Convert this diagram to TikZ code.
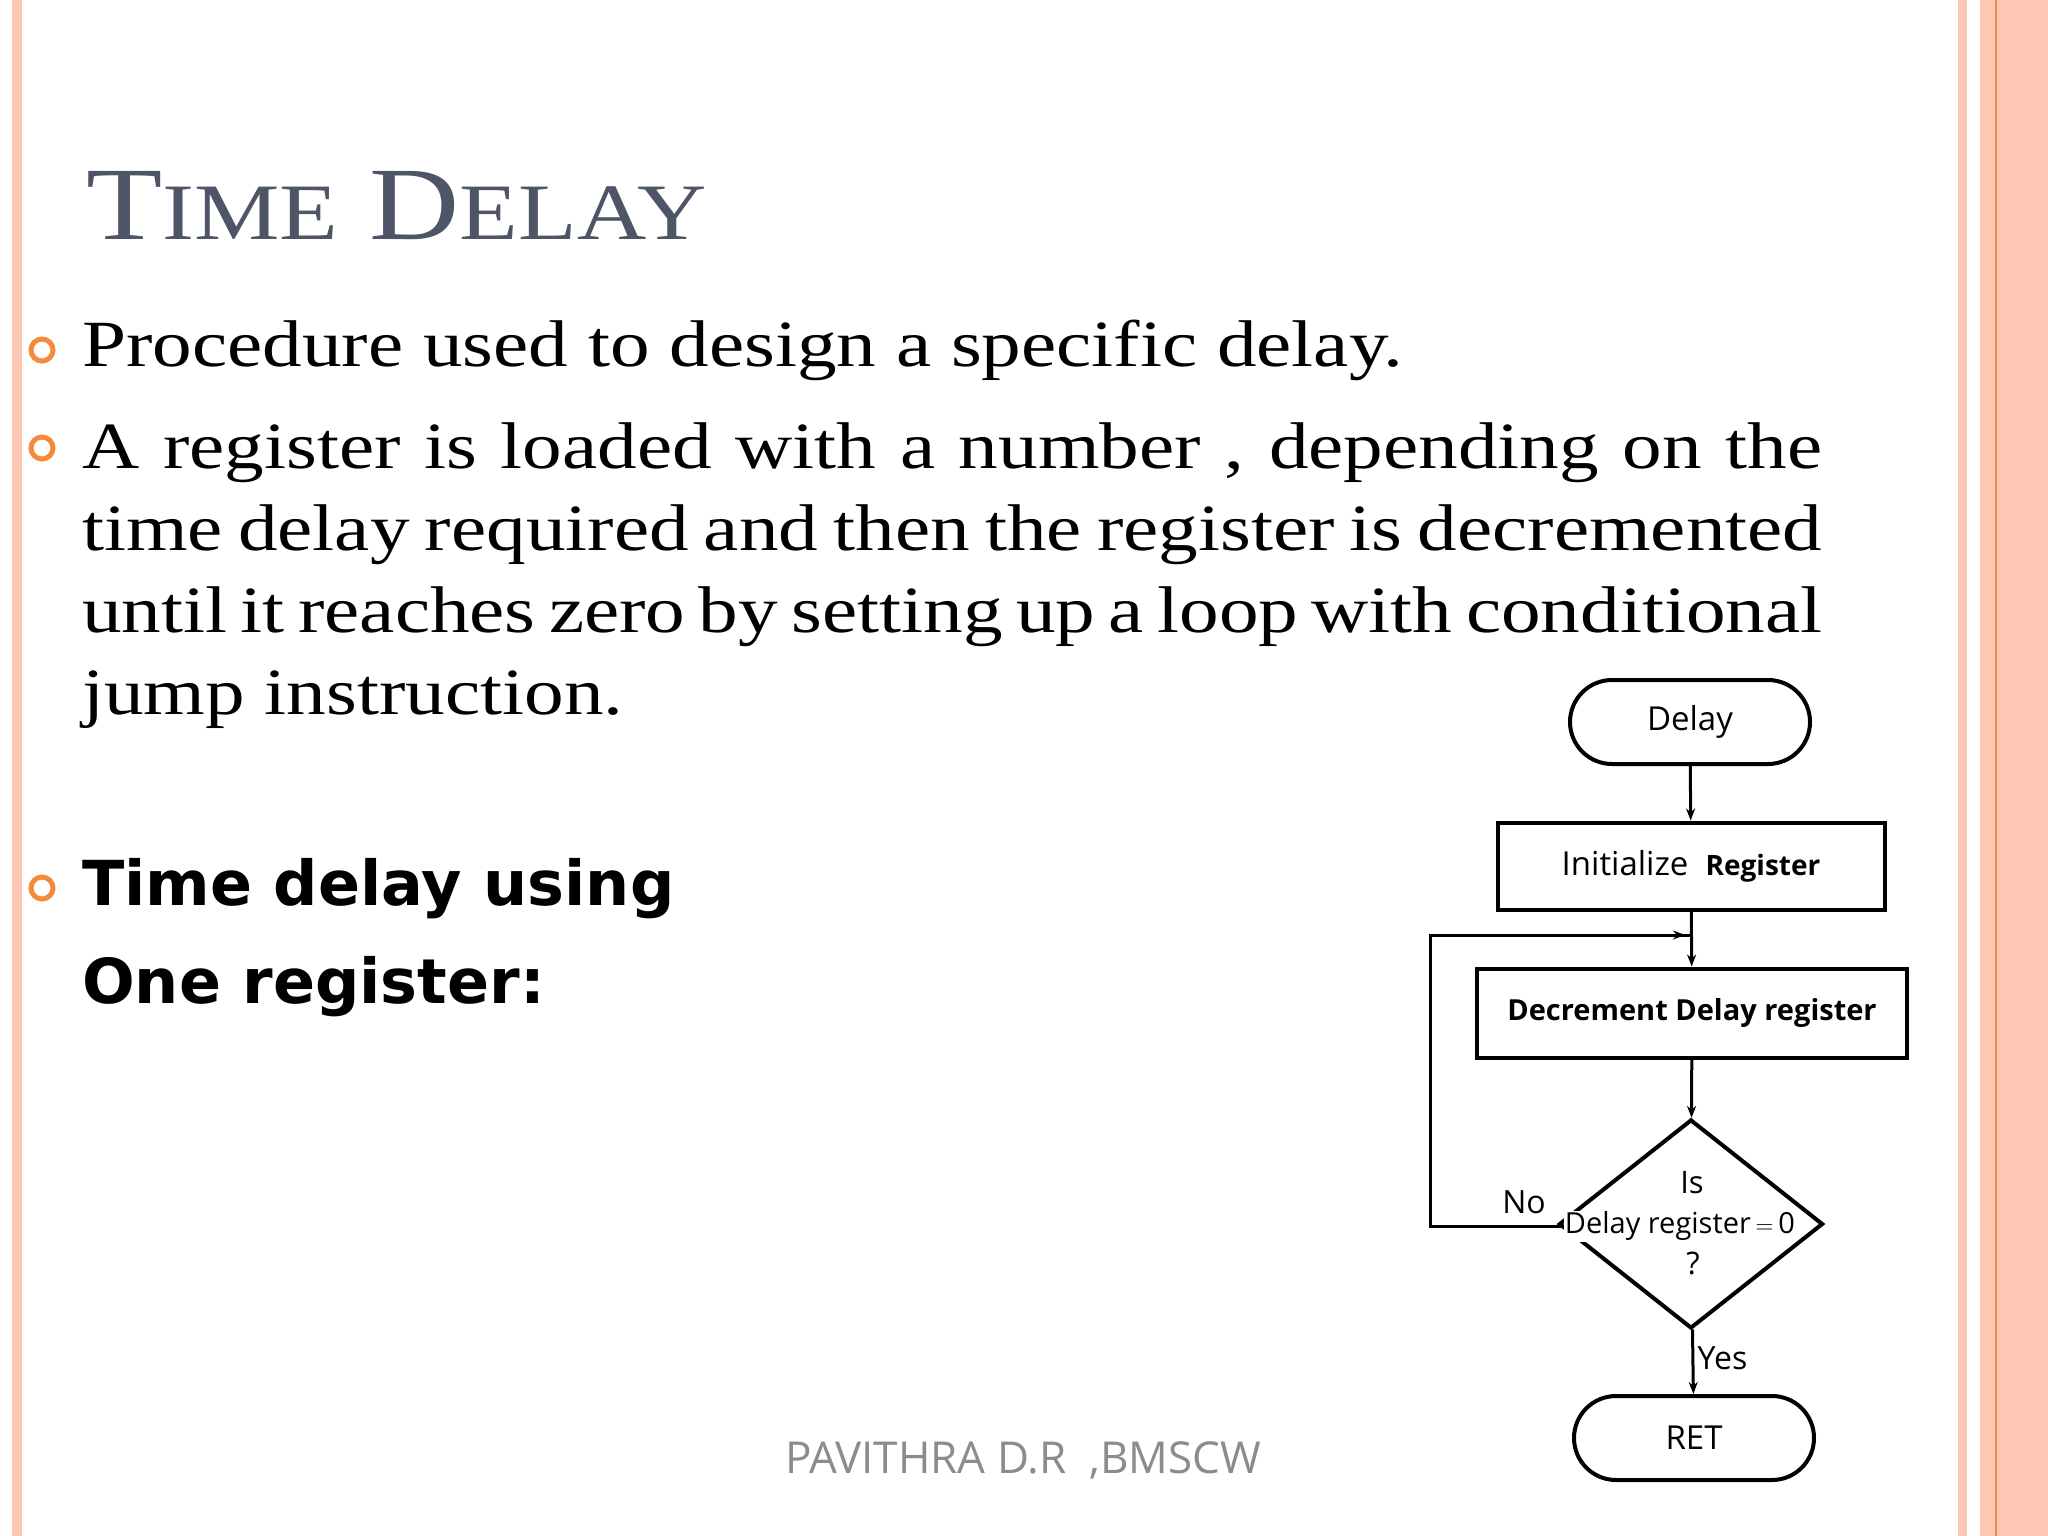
\documentclass[tikz,border=0pt]{standalone}
\usepackage{fontspec}
\setmainfont{Liberation Serif}
\newfontfamily\bodyserif[FakeStretch=1.2]{Liberation Serif}
\newfontfamily\bodysans{DejaVu Sans}
\newfontfamily\fcfont{Open Sans}
\usetikzlibrary{shapes.geometric,shapes.misc,arrows.meta}
\definecolor{salmon}{HTML}{FCC8B4}
\definecolor{dorange}{HTML}{F08A50}
\definecolor{bullet}{HTML}{F58A3C}
\definecolor{titlec}{HTML}{4D5566}
\newcommand{\smc}[1]{{\fontsize{80}{90}\selectfont #1}}
\begin{document}
\begin{tikzpicture}[x=1pt,y=-1pt,
  fc/.style={draw=black,line width=4pt,font=\fcfont\fontsize{33}{36}\selectfont,inner sep=0pt},
  term/.style={fc,rounded rectangle,minimum width=240pt,minimum height=84pt},
  boxx/.style={fc,rectangle,minimum width=387pt,minimum height=87pt},
  con/.style={line width=3pt,-{Stealth[length=12pt,width=9pt]}},
  bul/.style={circle,draw=bullet,line width=5pt,minimum size=22pt,inner sep=0pt}]
\useasboundingbox (0,0) rectangle (2048,1536);
\fill[white] (0,0) rectangle (2048,1536);
% borders
\fill[salmon] (12,0) rectangle (22,1536);
\fill[salmon] (1958,0) rectangle (1967,1536);
\fill[salmon] (1980,0) rectangle (2048,1536);
\draw[dorange,line width=2pt] (1996,0) -- (1996,1536);
% title
\node[anchor=base west,text=titlec,inner sep=0pt,font=\bodyserif\fontsize{104}{110}\selectfont] (title) at (86,239) {T\smc{IME} D\smc{ELAY}};
% bullets
\node[bul] (b1) at (42,350) {};
\node[bul] (b2) at (42,448) {};
\node[bul] (b3) at (42,888) {};
\node[anchor=base west,inner sep=0pt,font=\bodyserif\fontsize{66}{82}\selectfont] (t1) at (82,366) {Procedure used to design a specific delay.};
\node[anchor=north west,inner sep=0pt,text width=1740pt,align=justify,font=\bodyserif\fontsize{66}{82}\selectfont] (t2) at (82,423) {A register is loaded with a number , depending on the time delay required and then the register is decremented until it reaches zero by setting up a loop with conditional jump instruction.};
\node[anchor=base west,inner sep=0pt,font=\bodysans\bfseries\fontsize{62}{70}\selectfont] (t3) at (82,905) {Time delay using};
\node[anchor=base west,inner sep=0pt,font=\bodysans\bfseries\fontsize{62}{70}\selectfont] (t4) at (82,1003) {One register:};
\node[text=gray!90,font=\fcfont\fontsize{44}{50}\selectfont] (foot) at (1023,1460) {PAVITHRA D.R\ \ ,BMSCW};
% flowchart
\node[term] (delay) at (1690,722) {Delay};
\node[boxx] (init) at (1691,866) {Initialize\ \ {\bfseries\fontsize{28}{30}\selectfont Register}};
\node[boxx,minimum width=430pt,minimum height=89pt] (dec) at (1692,1013) {\bfseries\fontsize{29}{30}\selectfont Decrement Delay register};
\node[fc,diamond,minimum width=264pt,minimum height=209pt,aspect=1.26] (dia) at (1691,1224) {};
\node[font=\fcfont\fontsize{31}{34}\selectfont] (is) at (1692,1183) {Is};
\node[font=\fcfont\fontsize{29}{34}\selectfont,fill=white,inner sep=1pt] (dr) at (1680,1226) {Delay register\,$=$\,0};
\node[font=\fcfont\fontsize{31}{34}\selectfont] (q) at (1693,1263) {?};
\node[term] (ret) at (1694,1438) {RET};
\coordinate (c1) at (1430,1226);
\coordinate (c2) at (1430,935);
\coordinate (c3) at (1691,935);
\draw[con] (delay) -- (init);
\draw[con] (init) -- (dec);
\draw[con] (dec) -- (dia);
\draw[con] (dia) -- (ret) node[pos=0.45,right,font=\fcfont\fontsize{32}{34}\selectfont] {Yes};
\draw[line width=3pt] (dr.west) -- (c1) -- (c2) -- (c3);
\draw[con] (c2) -- (1685,935);
\node[font=\fcfont\fontsize{32}{34}\selectfont] (no) at (1524,1202) {No};
\end{tikzpicture}
\end{document}
